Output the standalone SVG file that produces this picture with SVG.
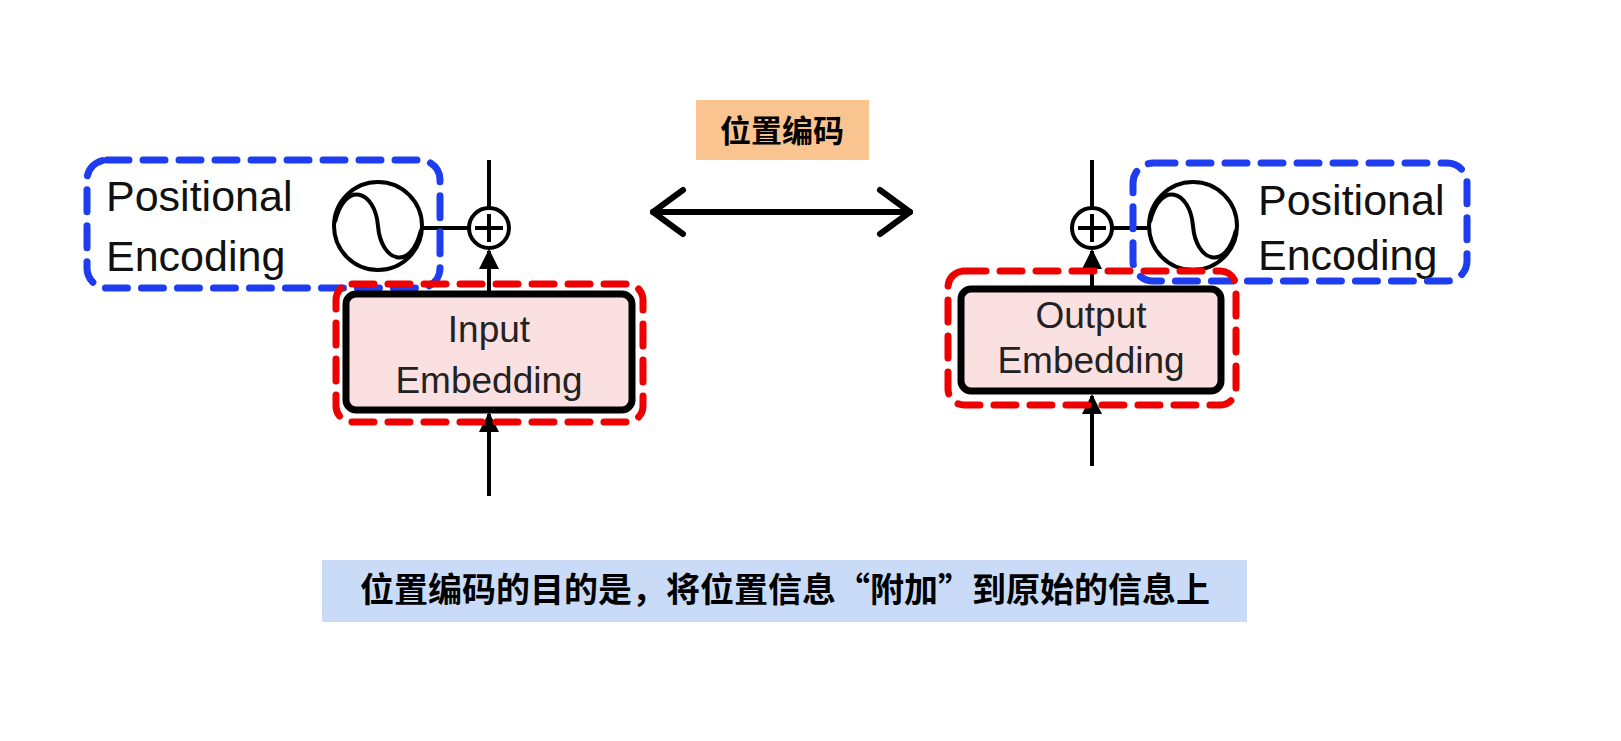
<svg xmlns="http://www.w3.org/2000/svg" width="1621" height="741" viewBox="0 0 1621 741">
<style>
.emb{fill:#fbe0e2;stroke:#000;stroke-width:7}
.red{fill:none;stroke:#ee0000;stroke-width:7;stroke-dasharray:22,14;stroke-linecap:round}
.blue{fill:none;stroke:#1f3df0;stroke-width:7;stroke-dasharray:22,14;stroke-linecap:round}
.ln{stroke:#000;stroke-width:4;fill:none}
.t{font-family:"Liberation Sans",Arial,sans-serif;font-size:43px;fill:#111}
.e{font-family:"Liberation Sans",Arial,sans-serif;font-size:37px;fill:#222;text-anchor:middle}
.cn{font-family:"Noto Sans CJK SC",sans-serif;font-weight:bold;fill:#000;text-anchor:middle}
</style>
<defs>
<marker id="ah" viewBox="0 0 10 10" refX="9" refY="5" markerWidth="5" markerHeight="5" orient="auto-start-reverse"><path d="M0,0L10,5L0,10z" fill="#000"/></marker>
</defs>
<rect width="1621" height="741" fill="#fff"/>
<g id="connectors">
<line class="ln" x1="489" y1="160" x2="489" y2="207"/>
<line class="ln" x1="489" y1="293" x2="489" y2="251" marker-end="url(#ah)"/>
<line class="ln" x1="489" y1="496" x2="489" y2="414" marker-end="url(#ah)"/>
<line class="ln" x1="423" y1="228" x2="468" y2="228"/>
<line class="ln" x1="1092" y1="160" x2="1092" y2="207"/>
<line class="ln" x1="1092" y1="288" x2="1092" y2="251" marker-end="url(#ah)"/>
<line class="ln" x1="1092" y1="466" x2="1092" y2="396" marker-end="url(#ah)"/>
<line class="ln" x1="1113" y1="228" x2="1148" y2="228"/>
<g stroke="#000" stroke-width="6" fill="none" stroke-linecap="round" stroke-linejoin="round">
<line x1="653" y1="212" x2="910" y2="212"/>
<polyline points="683,190 653,212 683,234"/>
<polyline points="880,190 910,212 880,234"/>
</g>
</g>
<g id="pe-left">
<circle cx="378" cy="226" r="44" fill="#fff" stroke="#000" stroke-width="4"/>
<path d="M335,222 C345,180 375,190 378,226 C381,262 411,272 421,230" fill="none" stroke="#000" stroke-width="4"/>
<text class="t" x="106" y="211">Positional</text>
<text class="t" x="106" y="271">Encoding</text>
<rect class="blue" x="87" y="160" width="353" height="128" rx="20"/>
</g>
<g id="plus-left">
<circle cx="489" cy="228" r="20" fill="#fff" stroke="#000" stroke-width="4"/>
<path d="M475,228H503M489,214V242" class="ln"/>
</g>
<g id="input-embedding">
<rect class="emb" x="346" y="294" width="286" height="116" rx="10"/>
<text class="e" x="489" y="342">Input</text>
<text class="e" x="489" y="393">Embedding</text>
<rect class="red" x="336" y="284" width="307" height="138" rx="16"/>
</g>
<g id="pe-right">
<circle cx="1193" cy="226" r="44" fill="#fff" stroke="#000" stroke-width="4"/>
<path d="M1150,222 C1160,180 1190,190 1193,226 C1196,262 1226,272 1236,230" fill="none" stroke="#000" stroke-width="4"/>
<text class="t" x="1258" y="215">Positional</text>
<text class="t" x="1258" y="270">Encoding</text>
<rect class="blue" x="1133" y="163" width="334" height="118" rx="20"/>
</g>
<g id="plus-right">
<circle cx="1092" cy="228" r="20" fill="#fff" stroke="#000" stroke-width="4"/>
<path d="M1078,228H1106M1092,214V242" class="ln"/>
</g>
<g id="output-embedding">
<rect class="emb" x="961" y="289" width="260" height="102" rx="10"/>
<text class="e" x="1091" y="328">Output</text>
<text class="e" x="1091" y="373">Embedding</text>
<rect class="red" x="948" y="271" width="288" height="134" rx="16"/>
</g>
<g id="label-top">
<rect x="696" y="100" width="173" height="60" fill="#f9c48f"/>
<text class="cn" x="782" y="142" font-size="31">位置编码</text>
</g>
<g id="label-bottom">
<rect x="322" y="560" width="925" height="62" fill="#c9dbf7"/>
<text class="cn" x="785" y="602" font-size="34">位置编码的目的是，将位置信息“附加”到原始的信息上</text>
</g>
</svg>
